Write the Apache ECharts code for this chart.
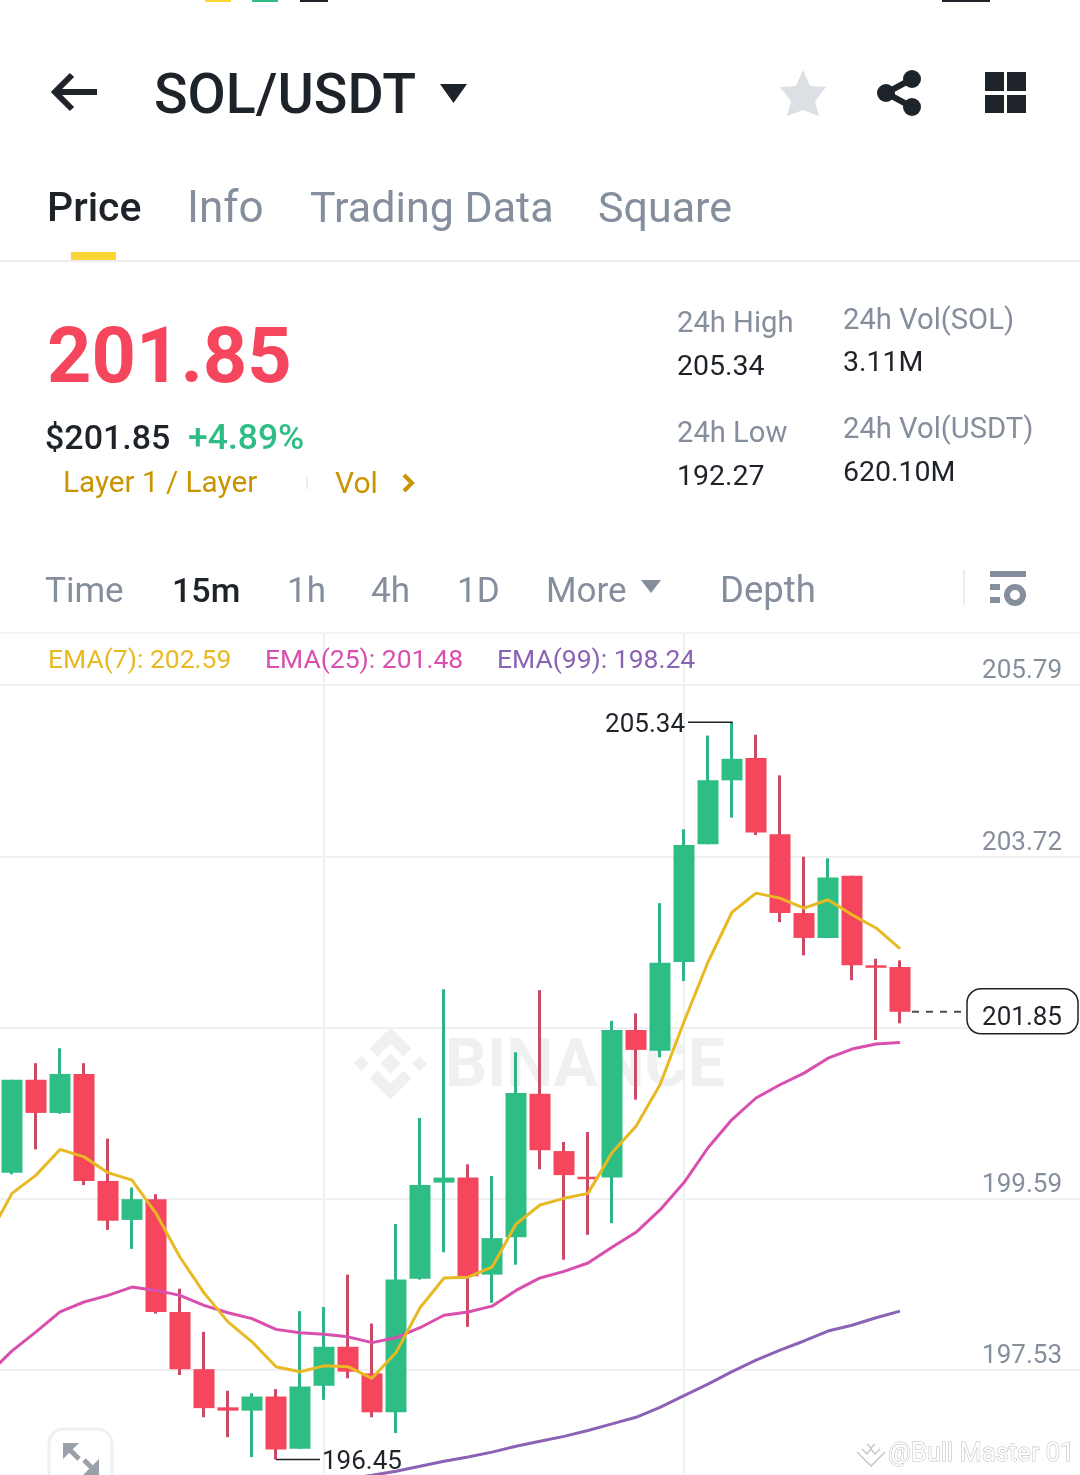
<!DOCTYPE html>
<html>
<head>
<meta charset="utf-8" />
<title>SOL/USDT</title>
<script src="https://cdn.jsdelivr.net/npm/echarts@6/dist/echarts.min.js"></script>
<style>
html, body { margin: 0; padding: 0; background: #fff; }
#chart { width: 1080px; height: 1475px; }
</style>
</head>
<body>
<div id="chart"></div>
<script>
// [open, close, low, high]
var candles = [
  [199.91, 201.03, 199.89, 201.03], [201.03, 200.63, 200.19, 201.23], [200.63, 201.10, 200.62, 201.41],
  [201.10, 199.81, 199.76, 201.23], [199.81, 199.33, 199.22, 200.32], [199.34, 199.59, 198.99, 199.73],
  [199.59, 198.23, 198.21, 199.65], [198.23, 197.54, 197.47, 198.51], [197.54, 197.07, 196.96, 197.99],
  [197.08, 197.04, 196.72, 197.28], [197.04, 197.21, 196.48, 197.25], [197.21, 196.57, 196.45, 197.30],
  [196.58, 197.33, 196.58, 198.24], [197.34, 197.81, 197.17, 198.29], [197.81, 197.51, 197.43, 198.68],
  [197.49, 197.02, 196.96, 198.09], [197.02, 198.62, 196.77, 199.29], [198.63, 199.76, 198.62, 200.57],
  [199.79, 199.85, 198.95, 202.12], [199.85, 198.66, 198.05, 200.01], [198.68, 199.12, 198.34, 199.87],
  [199.13, 200.87, 198.80, 201.36], [200.86, 200.18, 199.95, 202.11], [200.17, 199.88, 198.86, 200.28],
  [199.86, 199.83, 199.16, 200.40], [199.85, 201.63, 199.30, 201.74], [201.63, 201.39, 200.79, 201.83],
  [201.38, 202.44, 201.30, 203.16], [202.45, 203.86, 202.22, 204.05], [203.87, 204.64, 203.87, 205.18],
  [204.64, 204.90, 204.19, 205.34], [204.91, 204.01, 203.98, 205.19], [203.99, 203.04, 202.93, 204.70],
  [203.04, 202.74, 202.53, 203.72], [202.74, 203.47, 202.74, 203.70], [203.49, 202.41, 202.23, 203.49],
  [202.41, 202.38, 201.51, 202.49], [202.39, 201.85, 201.71, 202.47]
];
var ema7 = [199.13, 199.66, 199.88, 200.19, 200.10, 199.91, 199.82, 199.42, 198.89, 198.46, 198.11, 197.87, 197.57,
  197.51, 197.58, 197.57, 197.43, 197.74, 198.28, 198.64, 198.65, 198.77, 199.29, 199.52, 199.60, 199.66, 200.15,
  200.47, 200.97, 201.73, 202.45, 203.05, 203.28, 203.22, 203.10, 203.20, 203.02, 202.86, 202.61];
var ema25 = [197.48, 197.76, 197.99, 198.23, 198.35, 198.43, 198.53, 198.49, 198.43, 198.31, 198.22, 198.15, 198.02,
  197.98, 197.96, 197.93, 197.86, 197.92, 198.04, 198.19, 198.23, 198.30, 198.49, 198.64, 198.72, 198.82, 199.01,
  199.19, 199.46, 199.79, 200.21, 200.55, 200.81, 200.97, 201.11, 201.29, 201.40, 201.46, 201.48];
var ema99 = ['-', '-', '-', '-', '-', '-', '-', '-', '-', '-', '-', '-', '-', '-', '-', 196.22, 196.26, 196.31, 196.37,
  196.43, 196.48, 196.54, 196.61, 196.67, 196.73, 196.80, 196.88, 196.96, 197.08, 197.22, 197.36, 197.51, 197.65,
  197.77, 197.88, 198.00, 198.07, 198.16, 198.24];
var yTicks = [197.53, 199.59, 201.66, 203.72, 205.79];
var verticalGridSlots = [14, 29];
var lastPrice = 201.85, highPrice = 205.34, highSlot = 31, lowPrice = 196.45, lowSlot = 12;

var tabs = [['Price', 47, '#1e2329', 41, 500], ['Info', 187, '#848e9c', 44, 400], ['Trading Data', 310, '#848e9c', 43, 400], ['Square', 598, '#848e9c', 43, 400]];
var periods = [['Time', 45, '#848e9c', 400, 35], ['15m', 172, '#1e2329', 500, 34], ['1h', 287, '#848e9c', 400, 35], ['4h', 371, '#848e9c', 400, 35],
  ['1D', 457, '#848e9c', 400, 35], ['More', 546, '#848e9c', 400, 35], ['Depth', 720, '#848e9c', 400, 36.5]];
var stats = [['24h High', 677, 325, '#848e9c'], ['205.34', 677, 368, '#1e2329'], ['24h Low', 677, 435, '#848e9c'], ['192.27', 677, 478, '#1e2329'],
  ['24h Vol(SOL)', 843, 322, '#848e9c'], ['3.11M', 843, 364, '#1e2329'], ['24h Vol(USDT)', 843, 431, '#848e9c'], ['620.10M', 843, 474, '#1e2329']];
var legends = [['EMA(7): 202.59', 48, '#e8b923'], ['EMA(25): 201.48', 265, '#d94fae'], ['EMA(99): 198.24', 497, '#8a63b5']];

var UP = '#2ebd85', DOWN = '#f6465d', INK = '#1e2329', GREY = '#848e9c', GOLD = '#c99400', FONT = 'Roboto';
var UP_WICK = '#2fb585', DOWN_WICK = '#cb4a66';

var slots = [];
for (var i = 0; i < 46; i++) slots.push(i);

// wicks are a shade darker than the bodies, so they get their own series underneath
var gap = [['-', '-', '-', '-']];
var bodies = gap.concat(candles.map(function (c) {
  return [c[0], c[1], Math.min(c[0], c[1]), Math.max(c[0], c[1])];
}));

var myChart = echarts.init(document.getElementById('chart'), null, { renderer: 'canvas' });

myChart.setOption({
  animation: false,
  backgroundColor: '#fff',
  grid: { left: -24, width: 1104, top: 633, height: 842, outerBoundsMode: 'none' },
  xAxis: { type: 'category', data: slots, boundaryGap: true, show: false },
  yAxis: {
    type: 'value', position: 'right', min: 196.264, max: 206.417, scale: true,
    axisLine: { show: false },
    axisTick: { show: false, customValues: yTicks },
    axisLabel: {
      inside: true, customValues: yTicks, margin: 18, color: GREY, fontFamily: FONT, fontSize: 26,
      verticalAlign: 'bottom', lineHeight: 27,
      formatter: function (v) { return v.toFixed(2); }
    },
    splitLine: { show: true, lineStyle: { color: '#eff0f2', width: 2 } }
  },
  series: [
    {
      type: 'candlestick', data: gap.concat(candles), barWidth: 1, z: 2, clip: true,
      itemStyle: { color: UP_WICK, color0: DOWN_WICK, borderColor: UP_WICK, borderColor0: DOWN_WICK, borderWidth: 3 },
      markLine: {
        silent: true, symbol: 'none', z: 1, animation: false, label: { show: false },
        lineStyle: { color: '#eff0f2', width: 2, type: 'solid' },
        data: verticalGridSlots.map(function (s) { return { xAxis: s }; })
      }
    },
    {
      type: 'candlestick', data: bodies, barWidth: 21, z: 2, clip: true,
      itemStyle: { color: UP, color0: DOWN, borderColor: UP, borderColor0: DOWN, borderWidth: 0 }
    },
    { type: 'line', data: ema99, showSymbol: false, z: 3, lineStyle: { color: '#8a63b5', width: 3 } },
    { type: 'line', data: ema25, showSymbol: false, z: 3, lineStyle: { color: '#d94fae', width: 3 } },
    { type: 'line', data: ema7, showSymbol: false, z: 4, lineStyle: { color: '#e8b923', width: 3 } }
  ]
});

function txt(text, x, y, size, color, weight, align) {
  return { type: 'text', z: 20, style: { text: text, x: x, y: y, fill: color, fontFamily: FONT, fontSize: size,
    fontWeight: weight || 400, align: align || 'left', verticalAlign: 'middle' } };
}
function box(x, y, w, h, color, r) {
  return { type: 'rect', z: 20, shape: { x: x, y: y, width: w, height: h, r: r || 0 }, style: { fill: color } };
}
function poly(points, color, z) {
  return { type: 'polygon', z: z || 20, shape: { points: points }, style: { fill: color } };
}
function stroke(points, color, width, z) {
  return { type: 'polyline', z: z || 20, shape: { points: points }, style: { stroke: color, lineWidth: width, fill: null } };
}
function shift(points, cx, cy) {
  return points.map(function (p) { return [p[0] + cx, p[1] + cy]; });
}

var g = [];

// cut-off status bar
g.push(box(205, 0, 26, 2, '#fcd535'), box(252, 0, 26, 2, '#2ebd85'), box(300, 0, 28, 2, INK), box(942, 0, 48, 2, INK));

// header
g.push(stroke([[72, 75], [55, 92], [72, 109]], INK, 6), stroke([[56, 92], [97, 92]], INK, 6));
g.push(txt('SOL/USDT', 154, 99, 55.5, INK, 500));
g.push(poly([[440, 84], [467, 84], [453.5, 103]], INK));
g.push(poly([[803, 70], [810, 86], [826, 87], [815, 101], [819, 116], [803, 110], [787, 116], [791, 101], [780, 87], [796, 86]], '#dcdfe3'));
g.push(stroke([[912, 79], [886, 93], [912, 107]], INK, 6));
g.push({ type: 'circle', z: 20, shape: { cx: 912, cy: 79, r: 9 }, style: { fill: INK } });
g.push({ type: 'circle', z: 20, shape: { cx: 886, cy: 93, r: 9 }, style: { fill: INK } });
g.push({ type: 'circle', z: 20, shape: { cx: 912, cy: 107, r: 9 }, style: { fill: INK } });
g.push(box(985, 72, 19, 19, INK), box(1007, 72, 19, 19, INK), box(985, 95, 19, 18, INK), box(1007, 95, 19, 18, INK));

// tabs
tabs.forEach(function (t) { g.push(txt(t[0], t[1], 211, t[3], t[2], t[4])); });
g.push(box(71, 252, 45, 8, '#fcd535'), box(0, 260, 1080, 2, '#eaecef'));

// price block
g.push(txt('201.85', 47, 363, 77.5, DOWN, 700));
g.push(txt('$201.85', 45, 440, 34, INK, 500), txt('+4.89%', 188, 440, 35.5, UP, 500));
g.push(txt('Layer 1 / Layer', 63, 485, 29.7, GOLD), box(306, 477, 2, 12, '#eaecef'), txt('Vol', 335, 485, 30, GOLD));
g.push(stroke([[404, 475], [412, 483], [404, 491]], GOLD, 4));
stats.forEach(function (s) { g.push(txt(s[0], s[1], s[2], s[3] === GREY ? 29.2 : 28.5, s[3])); });

// period row
periods.forEach(function (p) { g.push(txt(p[0], p[1], 593, p[4], p[2], p[3])); });
g.push(poly([[641, 580], [661, 580], [651, 593]], GREY));
g.push(box(963, 570, 2, 35, '#eaecef'));
g.push(box(990, 571, 36, 6, GREY), box(990, 584, 10, 6, GREY), box(990, 597, 10, 6, GREY));
g.push({ type: 'circle', z: 20, shape: { cx: 1015, cy: 595, r: 8 }, style: { fill: '#fff', stroke: GREY, lineWidth: 6 } });

// chart top rule and EMA legend
g.push(box(0, 632, 1080, 2, '#f3f4f6'));
legends.forEach(function (l) { g.push(txt(l[0], l[1], 661, 26.5, l[2])); });

// watermark, under the candles
var wm = '#eff0f2';
var chevron = [[0, -36], [21, -15], [13, -7], [0, -20], [-13, -7], [-21, -15]];
g.push(poly(shift(chevron, 390.5, 1063.5), wm, 1));
g.push(poly(shift(chevron.map(function (p) { return [p[0], -p[1]]; }), 390.5, 1063.5), wm, 1));
[[390.5, 10], [361.5, 7.5], [419.5, 7.5]].forEach(function (d) {
  g.push(poly([[d[0], 1063.5 - d[1]], [d[0] + d[1], 1063.5], [d[0], 1063.5 + d[1]], [d[0] - d[1], 1063.5]], wm, 1));
});
g.push({ type: 'text', z: 1, style: { text: 'BINANCE', x: 445, y: 1069, fill: wm, fontFamily: FONT, fontSize: 66, fontWeight: 700, verticalAlign: 'middle' } });

// price annotations, placed through the axes
var lastPt = myChart.convertToPixel({ seriesIndex: 0 }, [38, lastPrice]);
var highPt = myChart.convertToPixel({ seriesIndex: 0 }, [highSlot, highPrice]);
var lowPt = myChart.convertToPixel({ seriesIndex: 0 }, [lowSlot, lowPrice]);

g.push({ type: 'line', z: 15, shape: { x1: lastPt[0] + 12, y1: lastPt[1], x2: 967, y2: lastPt[1] }, style: { stroke: '#474d57', lineWidth: 2, lineDash: [7, 7] } });
g.push({ type: 'rect', z: 15, shape: { x: 967, y: lastPt[1] - 23, width: 111, height: 45, r: 14 }, style: { fill: '#fff', stroke: INK, lineWidth: 1.5 } });
g.push(txt('201.85', 1022, lastPt[1] + 7, 26, INK, 400, 'center'));
g.push(stroke([[highPt[0], highPt[1] + 1], [highPt[0], highPt[1]], [688, highPt[1]]], INK, 1.5, 15));
g.push(txt('205.34', 685, highPt[1] + 3, 26, INK, 400, 'right'));
g.push(stroke([[lowPt[0], lowPt[1]], [320, lowPt[1]]], INK, 1.5, 15));
g.push(txt('196.45', 322, lowPt[1] + 3, 26, INK));

// expand button
g.push({ type: 'rect', z: 15, shape: { x: 49, y: 1429, width: 63, height: 70, r: 15 }, style: { fill: '#fff', stroke: '#eef0f2', lineWidth: 3 } });
g.push(poly([[63, 1443], [79, 1443], [63, 1459]], '#9aa1ab', 20), stroke([[68, 1448], [79, 1459]], '#9aa1ab', 5));
g.push(poly([[99, 1475], [83, 1475], [99, 1459]], '#9aa1ab', 20), stroke([[94, 1470], [84, 1460]], '#9aa1ab', 5));

// corner mark
g.push(stroke([[857, 1452], [871, 1466], [885, 1452]], '#c4c7cc', 1.5));
g.push(stroke([[862, 1449], [867, 1454], [871, 1449], [875, 1454], [880, 1449]], '#c4c7cc', 1.5));
g.push(stroke([[867, 1444], [871, 1448], [875, 1444]], '#c4c7cc', 1.5));
g.push({ type: 'text', z: 20, style: { text: '@Bull Master 01', x: 888, y: 1455, fill: '#fff', stroke: '#b4b8bf', lineWidth: 1,
  fontFamily: FONT, fontSize: 25.5, verticalAlign: 'middle' } });

myChart.setOption({ graphic: { elements: g } });
</script>
</body>
</html>
